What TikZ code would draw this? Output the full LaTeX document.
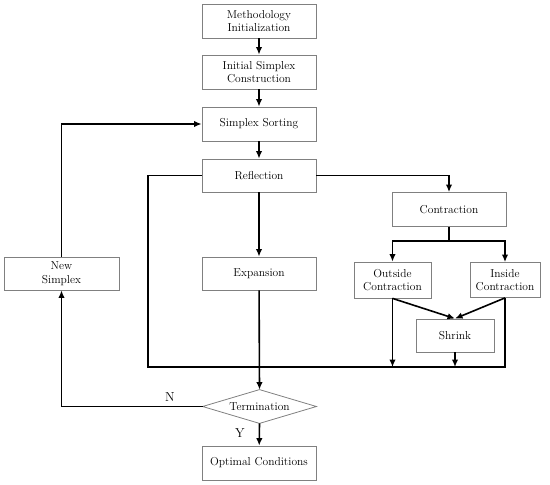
\documentclass[tikz,border=0pt]{standalone}
\usetikzlibrary{arrows.meta,calc}
\begin{document}
\begin{tikzpicture}[x=1pt,y=-1pt,
  box/.style={draw=black!50,line width=0.8pt,fill=white,align=center,inner sep=1pt,
    font=\fontsize{11.5}{13.5}\selectfont},
  arr/.style={line width=1.6pt,-{Latex[length=7.5pt,width=6.5pt]}},
  ln/.style={line width=1.6pt},
  lab/.style={font=\fontsize{13}{15}\selectfont}]
\useasboundingbox (0,0) rectangle (550,485);
\node[box,minimum width=114pt,minimum height=34pt] (init) at (259,21) {Methodology\\Initialization};
\node[box,minimum width=114pt,minimum height=34pt] (cons) at (259,72) {Initial Simplex\\Construction};
\node[box,minimum width=114pt,minimum height=34pt] (sort) at (259,124) {Simplex Sorting};
\node[box,minimum width=114pt,minimum height=33pt] (refl) at (259,175.5) {Reflection};
\node[box,minimum width=114pt,minimum height=33pt] (exp) at (259,273.5) {Expansion};
\node[box,minimum width=115pt,minimum height=33pt] (newS) at (61.5,273.5) {New\\Simplex};
\node[box,minimum width=114pt,minimum height=34pt] (contr) at (449,209.5) {Contraction};
\node[box,minimum width=77pt,minimum height=36pt] (outC) at (392.5,280) {Outside\\Contraction};
\node[box,minimum width=70pt,minimum height=35pt] (inC) at (505,280) {Inside\\Contraction};
\node[box,minimum width=78pt,minimum height=33pt] (shr) at (455,335.5) {Shrink};
\node[box,draw=none,fill=none,minimum width=113pt,minimum height=33pt] (term) at (259.5,406.5) {Termination};
\draw[black!50,line width=0.8pt] (term.north) -- (term.east) -- (term.south) -- (term.west) -- cycle;
\node[box,minimum width=114pt,minimum height=34pt] (opt) at (259,463) {Optimal Conditions};
\coordinate (cs) at (449,241);
\coordinate (bl) at (148,367);
\coordinate (br) at (505,367);
\draw[arr] (init) -- (cons);
\draw[arr] (cons) -- (sort);
\draw[arr] (sort) -- (refl);
\draw[arr] (refl) -- (exp);
\draw[arr] (exp) -- (term.north);
\draw[arr] (term.south) -- (opt);
\draw[arr] (term.west) -| (newS.south);
\draw[arr] (newS.north) |- (sort.west);
\draw[arr] (refl.east) -| (contr.north);
\draw[ln] (contr.south) -- (cs);
\draw[arr] (cs) -| (outC.north);
\draw[arr] (cs) -| (inC.north);
\draw[ln] (refl.west) -| (bl) -- (br) -- (inC.south);
\draw[arr] (outC.south) -- (outC.south |- bl);
\draw[arr] (shr.south) -- (shr.south |- bl);
\draw[arr] (outC.south) -- (shr.north);
\draw[arr] (inC.south) -- (shr.north);
\node[lab] (nlab) at (170,397) {N};
\node[lab] (ylab) at (240,433) {Y};
\end{tikzpicture}
\end{document}
